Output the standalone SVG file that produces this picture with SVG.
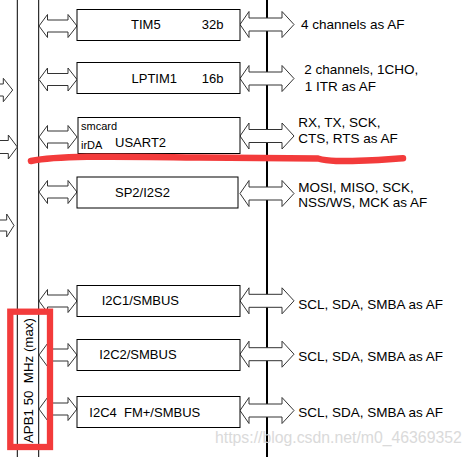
<svg xmlns="http://www.w3.org/2000/svg" width="471" height="457" viewBox="0 0 471 457">
<style>
text{font-family:"Liberation Sans",Arial,sans-serif;fill:#000;white-space:pre}
.box{fill:#fff;stroke:#000;stroke-width:1}
.lbl{font-size:13px}
.sig{font-size:13.5px}
.small{font-size:11px}
.arr{fill:#fff;stroke:#333;stroke-width:1}
.vline{stroke:#000;stroke-width:1;fill:none}
</style>
<defs>
<path id="ra" class="arr" d="M240,0 L249,-13 L249,-6.5 L282,-6.5 L282,-13 L294,0 L282,13 L282,6.5 L249,6.5 L249,13 Z"/>
<path id="la" class="arr" d="M39,0 L47.5,-11.5 L47.5,-6 L68,-6 L68,-11.5 L77,0 L68,11.5 L68,6 L47.5,6 L47.5,11.5 Z"/>
</defs>
<rect width="471" height="457" fill="#fff"/>
<g id="connectors">
<line class="vline" x1="17.3" y1="0" x2="17.3" y2="457"/>
<line class="vline" x1="38.7" y1="0" x2="38.7" y2="457"/>
<line x1="267" y1="0" x2="267" y2="457" stroke="#000" stroke-width="2"/>
<path class="arr" d="M-5,84 L3.3,84 L3.3,78.3 L12.7,90 L3.3,101.7 L3.3,96 L-5,96 Z"/>
<path class="arr" d="M-5,140.5 L8.3,140.5 L8.3,135 L17.3,147 L8.3,159 L8.3,153.5 L-5,153.5 Z"/>
<path class="arr" d="M-5,220 L6.7,220 L6.7,214 L14,225.5 L6.7,237 L6.7,231 L-5,231 Z"/>
<use href="#la" transform="translate(0,26)"/>
<use href="#la" transform="translate(0,79.5)"/>
<use href="#la" transform="translate(0,137)"/>
<use href="#la" transform="translate(0,192)"/>
<use href="#la" transform="translate(0,301)"/>
<use href="#la" transform="translate(0,355)"/>
<use href="#la" transform="translate(0,409)"/>
<use href="#ra" transform="translate(0,24.5)"/>
<use href="#ra" transform="translate(0,78.5)"/>
<use href="#ra" transform="translate(0,136)"/>
<use href="#ra" transform="translate(0,193.5)"/>
<use href="#ra" transform="translate(0,300.8)"/>
<use href="#ra" transform="translate(0,354.2)"/>
<use href="#ra" transform="translate(0,410.5)"/>
</g>
<g id="tim5">
<rect class="box" x="77" y="9.5" width="163" height="31"/>
<text class="lbl" x="131" y="29.3">TIM5</text>
<text class="lbl" x="201.7" y="29.3">32b</text>
<text class="sig" x="301" y="28.5">4 channels as AF</text>
</g>
<g id="lptim1">
<rect class="box" x="77" y="62.5" width="163" height="31"/>
<text class="lbl" x="131.5" y="82.5">LPTIM1</text>
<text class="lbl" x="201.7" y="82.5">16b</text>
<text class="sig" x="304.3" y="74">2 channels, 1CHO,</text>
<text class="sig" x="304.8" y="90.7">1 ITR as AF</text>
</g>
<g id="usart2">
<rect class="box" x="78" y="117.5" width="162" height="36"/>
<text class="small" x="81" y="130">smcard</text>
<text class="small" x="81" y="148.7">irDA</text>
<text class="lbl" x="115" y="146.7">USART2</text>
<text class="sig" x="298.3" y="126.7">RX, TX, SCK,</text>
<text class="sig" x="298.3" y="142.7">CTS, RTS as AF</text>
</g>
<g id="sp2">
<rect class="box" x="77" y="177" width="161" height="31"/>
<text class="lbl" x="115" y="197">SP2/I2S2</text>
<text class="sig" x="298.3" y="191.7">MOSI, MISO, SCK,</text>
<text class="sig" x="298.3" y="207.3">NSS/WS, MCK as AF</text>
</g>
<g id="i2c1">
<rect class="box" x="77" y="285.5" width="163" height="31"/>
<text class="lbl" x="101.7" y="305.3">I2C1/SMBUS</text>
<text class="sig" x="298.3" y="308.7">SCL, SDA, SMBA as AF</text>
</g>
<g id="i2c2">
<rect class="box" x="77" y="339.5" width="163" height="31"/>
<text class="lbl" x="99.3" y="359.3">I2C2/SMBUS</text>
<text class="sig" x="298.3" y="360.5">SCL, SDA, SMBA as AF</text>
</g>
<g id="i2c4">
<rect class="box" x="77" y="396.5" width="163" height="31"/>
<text class="lbl" x="89.3" y="416.7">I2C4  FM+/SMBUS</text>
<text class="sig" x="298.3" y="416.5">SCL, SDA, SMBA as AF</text>
</g>
<g id="apb1">
<text class="lbl" style="font-size:13.3px" transform="translate(32.5,443) rotate(-90)">APB1 50  MHz (max)</text>
</g>
<g id="annotations">
<rect x="10.3" y="311.7" width="39.7" height="135.3" fill="none" stroke="#f33b3b" stroke-width="6.3"/>
<path d="M31,161 C55,156 100,156 200,157.5 C260,158.3 300,158 318,158.5 C328,161.5 340,161.5 366,160.5 C385,160 395,158.5 403,158.3" fill="none" stroke="#f33b3b" stroke-width="6.5" stroke-linecap="round"/>
</g>
<text x="215" y="443" style="font-size:15.8px;fill:#d4d4d4;opacity:0.85">https://blog.csdn.net/m0_46369352</text>
</svg>
